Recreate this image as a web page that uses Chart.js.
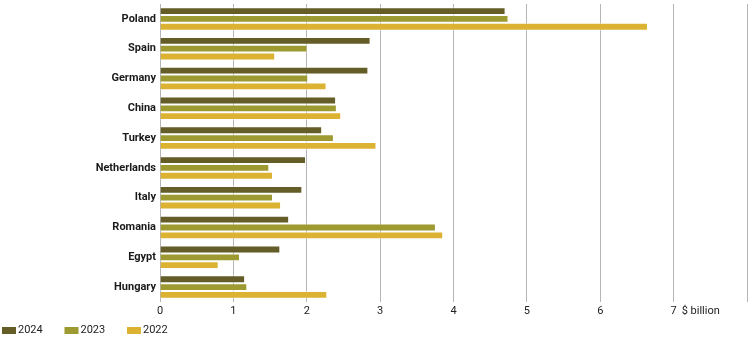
<!DOCTYPE html>
<html>
<head>
<meta charset="utf-8">
<script src="https://cdn.jsdelivr.net/npm/chart.js@4"></script>
<style>
  html, body { margin: 0; padding: 0; background: #fff; }
  #wrap { width: 750px; height: 343px; position: relative; }
</style>
</head>
<body>
<div id="wrap"><canvas id="c"></canvas></div>
<script>
const categories = ['Poland', 'Spain', 'Germany', 'China', 'Turkey', 'Netherlands', 'Italy', 'Romania', 'Egypt', 'Hungary'];
const seriesNames = ['2024', '2023', '2022'];
const values2024 = [4.71, 2.87, 2.84, 2.40, 2.21, 1.99, 1.94, 1.76, 1.64, 1.16];
const values2023 = [4.75, 2.01, 2.02, 2.41, 2.37, 1.49, 1.54, 3.76, 1.09, 1.19];
const values2022 = [6.65, 1.57, 2.27, 2.47, 2.95, 1.54, 1.65, 3.86, 0.80, 2.28];
const xTicks = ['0', '1', '2', '3', '4', '5', '6', '7', ''];
const unitLabel = '$ billion';
const colors = ['#645d27', '#9c9a31', '#dcb233'];

const customLegend = {
  id: 'customLegend',
  afterDraw(chart) {
    const ctx = chart.ctx;
    ctx.save();
    ctx.font = '11px Roboto';
    ctx.textBaseline = 'middle';
    ctx.textAlign = 'left';
    let x = 2;
    const y = 330.5;
    chart.data.datasets.forEach(ds => {
      ctx.fillStyle = ds.backgroundColor;
      ctx.fillRect(x, y - 3.5, 14, 7);
      ctx.fillStyle = '#222';
      ctx.fillText(ds.label, x + 16, y);
      x += 62.5;
    });
    const xs = chart.scales.x;
    const px = xs.getPixelForValue(7);
    ctx.fillText(unitLabel, px + 8, 311.5);
    ctx.restore();
  }
};

new Chart(document.getElementById('c'), {
  type: 'bar',
  data: {
    labels: categories,
    datasets: [
      { label: seriesNames[0], data: values2024, backgroundColor: colors[0], borderColor: 'rgba(255,255,255,0.55)', borderWidth: 1 },
      { label: seriesNames[1], data: values2023, backgroundColor: colors[1], borderColor: 'rgba(255,255,255,0.55)', borderWidth: 1 },
      { label: seriesNames[2], data: values2022, backgroundColor: colors[2], borderColor: 'rgba(255,255,255,0.55)', borderWidth: 1 }
    ]
  },
  options: {
    indexAxis: 'y',
    responsive: true,
    maintainAspectRatio: false,
    animation: false,
    categoryPercentage: 0.79,
    barPercentage: 1.0,
    layout: { padding: { top: 4, right: 3, left: 0, bottom: 0 } },
    plugins: {
      legend: { display: false },
      tooltip: { enabled: false }
    },
    scales: {
      x: {
        min: 0,
        max: 8,
        ticks: {
          stepSize: 1,
          padding: 3,
          color: '#222',
          font: { family: 'Roboto', size: 11 },
          callback: (v, i) => xTicks[i]
        },
        grid: { color: '#b5b5b5', lineWidth: 1, drawTicks: false },
        border: { display: false },
        afterFit: s => { s.height = 41; }
      },
      y: {
        ticks: {
          padding: 4,
          color: '#1a1a1a',
          font: { family: 'Roboto', size: 11, weight: 'bold' }
        },
        grid: { display: false, drawTicks: false },
        border: { display: false },
        afterFit: s => { s.width = 160; s.paddingTop = 0; s.paddingBottom = 0; }
      }
    }
  },
  plugins: [customLegend]
});
</script>
</body>
</html>
